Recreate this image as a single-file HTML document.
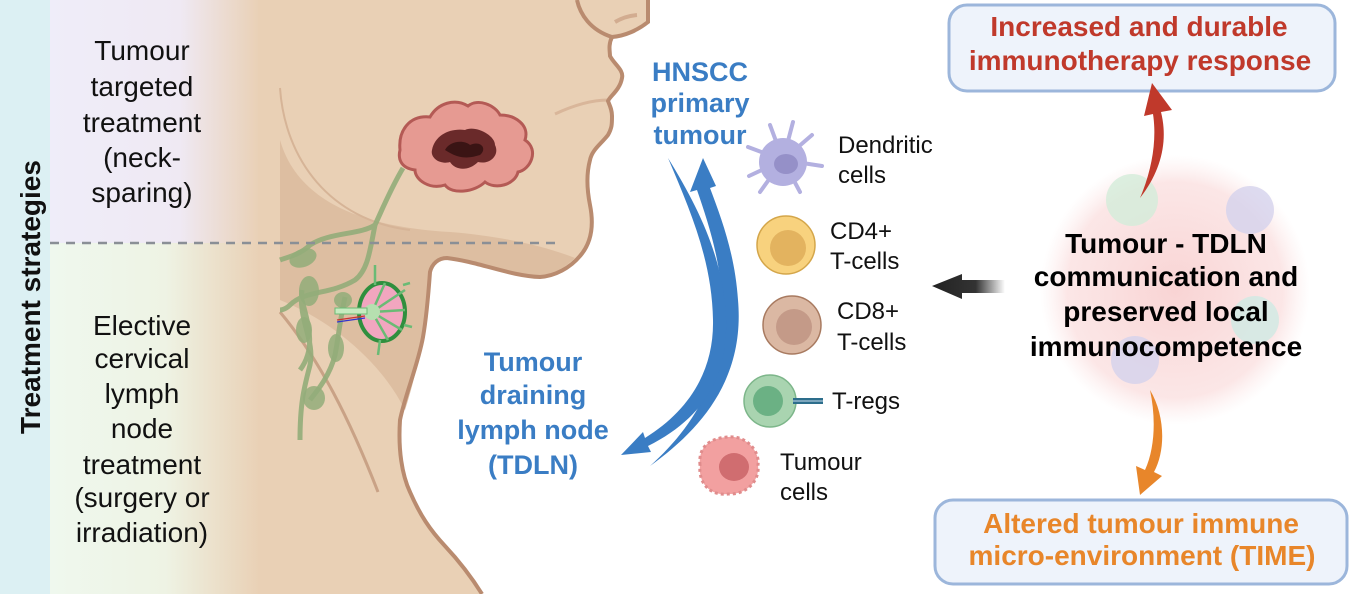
<!DOCTYPE html>
<html><head><meta charset="utf-8"><style>
html,body{margin:0;padding:0;background:#fff;}
svg{display:block;font-family:"Liberation Sans",Arial,sans-serif;}
</style></head><body>
<svg width="1352" height="594" viewBox="0 0 1352 594" xmlns="http://www.w3.org/2000/svg">
<defs>
<linearGradient id="gTop" x1="0" x2="1" y1="0" y2="0">
<stop offset="0" stop-color="#efedf9"/><stop offset="0.62" stop-color="#efe9f3"/><stop offset="1" stop-color="#e9d0b5"/></linearGradient>
<linearGradient id="gBot" x1="0" x2="1" y1="0" y2="0">
<stop offset="0" stop-color="#eff8ee"/><stop offset="0.55" stop-color="#eef3e4"/><stop offset="1" stop-color="#e9d0b5"/></linearGradient>
<linearGradient id="gBlk" x1="0" x2="1" y1="0" y2="0">
<stop offset="0" stop-color="#222"/><stop offset="0.6" stop-color="#333"/><stop offset="1" stop-color="#333" stop-opacity="0"/></linearGradient>
<radialGradient id="gBlob" cx="0.5" cy="0.5" r="0.5">
<stop offset="0" stop-color="#f7c9c9" stop-opacity="0.8"/><stop offset="0.8" stop-color="#f9d6d6" stop-opacity="0.6"/><stop offset="1" stop-color="#fbe3e3" stop-opacity="0"/></radialGradient>
</defs>
<rect x="0" y="0" width="50" height="594" fill="#dcf0f3"/>
<rect x="50" y="0" width="210" height="243" fill="url(#gTop)"/>
<rect x="50" y="243" width="210" height="351" fill="url(#gBot)"/>
<path d="M258,0 L577,0 C580,12 585,22 600,32 C620,38 635,30 645,22 L645,0 Z" fill="#e9d0b5"/>
<path d="M258,0 L577,0 C580,14 590,30 612,37 C608,45 610,52 610,56 C614,64 624,70 622,78 C620,90 610,96 608,101 C610,106 612,110 612,116 C612,124 612,128 608,135 C600,145 592,150 590,160 C586,175 587,190 590,205 C593,220 594,240 580,256 C570,268 555,276 540,277 C510,276 480,262 447,258 C438,258 432,264 430,272 C428,300 426,320 423,337 C418,365 405,395 400,420 C398,450 402,475 410,492 C420,515 430,530 445,546 C460,562 472,578 482,594 L258,594 Z" fill="#e9d0b5"/>
<path d="M577,0 C580,14 590,30 612,37 C625,36 638,30 648,22 L648,0" fill="#e9d0b5" stroke="#b98b6f" stroke-width="4"/>
<path d="M615,22 Q625,16 637,15" fill="none" stroke="#d2ac90" stroke-width="4"/>
<path d="M280,140 C300,210 380,228 450,232 C500,236 545,246 575,258 C560,272 548,276 540,277 C510,276 480,262 447,258 C438,258 432,264 430,272 C428,300 426,320 423,337 C418,365 410,395 405,410 C380,360 330,320 280,300 Z" fill="#dbbb9e" opacity="0.9"/>
<path d="M280,88 C285,160 330,220 410,230" fill="none" stroke="#d6b497" stroke-width="2"/>
<path d="M280,312 C320,360 350,420 378,492" fill="none" stroke="#c9a286" stroke-width="3"/>
<path d="M555,114 Q585,100 608,100" fill="none" stroke="#d9b69a" stroke-width="3"/>
<path d="M612,37 C608,45 610,52 610,56 C614,64 624,70 622,78 C620,90 610,96 608,101 C610,106 612,110 612,116 C612,124 612,128 608,135 C600,145 592,150 590,160 C586,175 587,190 590,205 C593,220 594,240 580,256 C570,268 555,276 540,277 C510,276 480,262 447,258 C438,258 432,264 430,272 C428,300 426,320 423,337 C418,365 405,395 400,420 C398,450 402,475 410,492 C420,515 430,530 445,546 C460,562 472,578 482,594" fill="none" stroke="#b98b6f" stroke-width="4"/>
<g fill="none" stroke="#93ad7a" stroke-width="5" opacity="0.9">
<path d="M403,168 C390,190 382,210 375,225 C360,235 330,232 310,245 C300,255 285,258 280,260"/>
<path d="M375,225 C370,250 368,270 355,280 C330,295 305,290 290,305 C285,310 280,310 280,310"/>
<path d="M302,290 C298,320 315,340 310,365 C305,385 300,400 300,440"/>
<path d="M345,297 C340,320 338,340 335,355 C330,375 318,390 310,400"/>
<path d="M302,300 C310,330 315,350 300,370"/>
</g>
<g fill="#93ad7a" opacity="0.85">
<ellipse cx="303" cy="258" rx="14" ry="9" transform="rotate(-20 303 258)"/>
<ellipse cx="309" cy="291" rx="10" ry="15"/>
<ellipse cx="304" cy="330" rx="8" ry="13"/>
<ellipse cx="336" cy="348" rx="8" ry="14"/>
<ellipse cx="314" cy="398" rx="11" ry="12"/>
<ellipse cx="343" cy="300" rx="9" ry="8"/>
</g>
<g>
<ellipse cx="382" cy="312" rx="23" ry="29" fill="#f2a6bf" stroke="#2f8f3e" stroke-width="4"/>
<g stroke="#6abb75" stroke-width="2.5">
<line x1="372" y1="312" x2="405" y2="290"/><line x1="372" y1="312" x2="405" y2="310"/><line x1="372" y1="312" x2="402" y2="330"/>
<line x1="372" y1="312" x2="385" y2="283"/><line x1="372" y1="312" x2="388" y2="340"/><line x1="375" y1="265" x2="375" y2="285"/>
<line x1="403" y1="285" x2="410" y2="283"/><line x1="404" y1="325" x2="412" y2="327"/><line x1="380" y1="340" x2="378" y2="355"/>
</g>
<circle cx="372" cy="312" r="8" fill="#b6e0b0"/>
<rect x="335" y="308" width="32" height="6" fill="#c7ebc0" stroke="#6abb75" stroke-width="1"/>
<path d="M337,320 L365,316" stroke="#c33" stroke-width="1.2"/><path d="M337,322 L365,318" stroke="#33c" stroke-width="1.2"/>
</g>
<path d="M400,150 C398,130 410,115 430,117 C438,103 455,98 468,106 C478,98 495,105 500,115 C515,115 530,125 525,140 C540,150 530,170 518,172 C515,185 495,190 485,182 C475,192 452,195 445,185 C430,190 415,180 415,170 C400,168 398,158 400,150 Z" fill="#e69a92" stroke="#b45a55" stroke-width="3"/>
<path d="M432,150 C435,135 450,128 465,130 C475,125 495,135 495,145 C500,155 490,165 478,162 C468,172 455,170 450,162 C440,165 430,158 432,150 Z" fill="#6a2a2a"/>
<path d="M445,150 C450,140 465,140 470,145 C480,140 488,148 480,155 C470,158 460,160 445,150 Z" fill="#3a1414"/>
<line x1="50" y1="243" x2="560" y2="243" stroke="#8a8f96" stroke-width="2.5" stroke-dasharray="9,7"/>
<text transform="translate(40,297) rotate(-90)" text-anchor="middle" font-size="28" font-weight="bold" fill="#111">Treatment strategies</text>
<g font-size="28" fill="#111" text-anchor="middle">
<text x="142" y="60">Tumour</text><text x="142" y="96">targeted</text><text x="142" y="132">treatment</text><text x="142" y="167">(neck-</text><text x="142" y="202">sparing)</text>
<text x="142" y="335">Elective</text><text x="142" y="368">cervical</text><text x="142" y="403">lymph</text><text x="142" y="438">node</text><text x="142" y="474">treatment</text><text x="142" y="507">(surgery or</text><text x="142" y="542">irradiation)</text>
</g>
<g font-size="27" font-weight="bold" fill="#3a7dc4" text-anchor="middle">
<text x="700" y="81">HNSCC</text><text x="700" y="112">primary</text><text x="700" y="144">tumour</text>
<text x="533" y="371">Tumour</text><text x="533" y="404">draining</text><text x="533" y="439">lymph node</text><text x="533" y="474">(TDLN)</text>
</g>
<path d="M650,466 C700,430 745,380 738,300 C735,255 722,220 710,188 L716,186 L703,158 L690,192 L697,190 C708,222 720,258 722,300 C726,380 690,430 650,466 Z" fill="#3a7dc4"/>
<path d="M668,158 C690,210 712,260 713,320 C714,370 690,410 645,438 L643,432 L621,455 L651,452 L648,446 C700,420 728,380 726,320 C724,260 700,210 668,158 Z" fill="#3a7dc4"/>
<g>
<g stroke="#b3b0e0" stroke-width="4" stroke-linecap="round" fill="none">
<path d="M783,160 L770,125"/><path d="M783,160 L793,122"/><path d="M783,160 L812,135"/><path d="M783,160 L822,166"/><path d="M783,160 L800,192"/><path d="M783,160 L760,192"/><path d="M783,160 L749,176"/><path d="M783,160 L748,147"/>
</g>
<circle cx="783" cy="162" r="24" fill="#b3b0e0"/>
<ellipse cx="786" cy="164" rx="12" ry="10" fill="#9590c8"/>
<circle cx="786" cy="245" r="29" fill="#f8d27e" stroke="#d4a64a" stroke-width="1.5"/><circle cx="788" cy="248" r="18" fill="#e3b35f"/>
<circle cx="792" cy="325" r="29" fill="#dbb8a3" stroke="#a87a60" stroke-width="1.5"/><circle cx="794" cy="327" r="18" fill="#c49a88"/>
<circle cx="770" cy="401" r="26" fill="#a9d4b0" stroke="#7db68a" stroke-width="1.5"/><circle cx="768" cy="401" r="15" fill="#6bb184"/>
<rect x="793" y="398" width="30" height="6" fill="#2d6e8c"/><line x1="793" y1="401" x2="823" y2="401" stroke="#cde" stroke-width="1"/>
<path d="M700,465 C698,445 712,438 728,437 C745,435 760,450 758,465 C760,482 745,495 728,494 C712,496 698,485 700,465 Z" fill="#f2a0a0" stroke="#e08c8c" stroke-width="3" stroke-dasharray="3,3"/>
<ellipse cx="734" cy="467" rx="15" ry="14" fill="#d06d70"/>
</g>
<g font-size="24" fill="#111">
<text x="838" y="153">Dendritic</text><text x="838" y="183">cells</text>
<text x="830" y="239">CD4+</text><text x="830" y="269">T-cells</text>
<text x="837" y="319">CD8+</text><text x="837" y="350">T-cells</text>
<text x="832" y="409">T-regs</text>
<text x="780" y="470">Tumour</text><text x="780" y="500">cells</text>
</g>
<ellipse cx="1175" cy="290" rx="135" ry="135" fill="url(#gBlob)"/>
<circle cx="1132" cy="200" r="26" fill="#d3ecd9" opacity="0.8"/>
<circle cx="1250" cy="210" r="24" fill="#d4d2ec" opacity="0.8"/>
<circle cx="1255" cy="320" r="24" fill="#cfeae3" opacity="0.8"/>
<circle cx="1135" cy="360" r="24" fill="#d4d2ec" opacity="0.8"/>
<rect x="949" y="5" width="386" height="86" rx="18" fill="#eef3fb" stroke="#9cb6db" stroke-width="3"/>
<rect x="935" y="500" width="412" height="84" rx="18" fill="#eef3fb" stroke="#9cb6db" stroke-width="3"/>
<g font-size="28" font-weight="bold" text-anchor="middle">
<text x="1139" y="36" fill="#c0392b">Increased and durable</text>
<text x="1140" y="70" fill="#c0392b">immunotherapy response</text>
<text x="1141" y="533" fill="#e8862a">Altered tumour immune</text>
<text x="1142" y="565" fill="#e8862a">micro-environment (TIME)</text>
<text x="1166" y="253" fill="#000">Tumour - TDLN</text>
<text x="1166" y="286" fill="#000">communication and</text>
<text x="1166" y="321" fill="#000">preserved local</text>
<text x="1166" y="356" fill="#000">immunocompetence</text>
</g>
<path d="M1140,198 C1162,170 1168,140 1161,112 L1172,110 L1152,83 L1144,116 L1153,114 C1157,140 1152,170 1140,198 Z" fill="#c0392b"/>
<path d="M1150,390 C1165,415 1166,450 1154,472 L1162,476 L1140,495 L1136,466 L1145,470 C1155,448 1156,418 1150,390 Z" fill="#e8862a"/>
<polygon points="932,286 962,274 962,280 1005,280 1005,293 962,293 962,299" fill="url(#gBlk)"/>
</svg>
</body></html>
